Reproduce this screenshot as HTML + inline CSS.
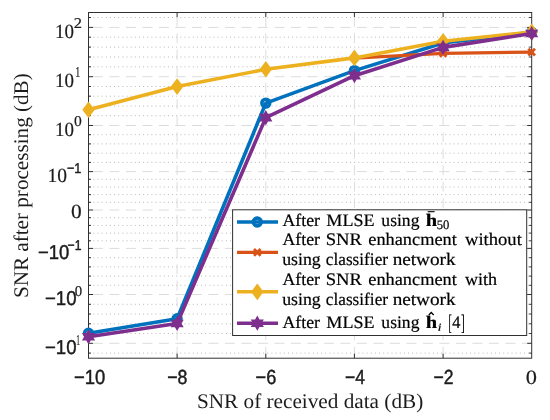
<!DOCTYPE html>
<html><head><meta charset="utf-8"><title>SNR plot</title>
<style>html,body{margin:0;padding:0;background:#fff;}svg{display:block;}</style>
</head><body>
<svg width="550" height="420" viewBox="0 0 550 420" text-rendering="geometricPrecision">
<rect width="550" height="420" fill="#fff"/>
<g stroke="#b8b8b8" stroke-width="1" stroke-dasharray="1 3.14" fill="none">
<path d="M89.25 37.2H531.7"/>
<path d="M89.25 47.1H531.7"/>
<path d="M89.25 57.0H531.7"/>
<path d="M89.25 66.8H531.7"/>
<path d="M89.25 86.5H531.7"/>
<path d="M89.25 96.2H531.7"/>
<path d="M89.25 106.0H531.7"/>
<path d="M89.25 115.7H531.7"/>
<path d="M89.25 134.7H531.7"/>
<path d="M89.25 143.9H531.7"/>
<path d="M89.25 153.2H531.7"/>
<path d="M89.25 162.4H531.7"/>
<path d="M89.25 179.3H531.7"/>
<path d="M89.25 187.0H531.7"/>
<path d="M89.25 194.6H531.7"/>
<path d="M89.25 202.3H531.7"/>
<path d="M89.25 217.7H531.7"/>
<path d="M89.25 225.4H531.7"/>
<path d="M89.25 233.1H531.7"/>
<path d="M89.25 240.8H531.7"/>
<path d="M89.25 257.7H531.7"/>
<path d="M89.25 266.9H531.7"/>
<path d="M89.25 276.1H531.7"/>
<path d="M89.25 285.3H531.7"/>
<path d="M89.25 304.3H531.7"/>
<path d="M89.25 314.0H531.7"/>
<path d="M89.25 323.8H531.7"/>
<path d="M89.25 333.5H531.7"/>
<path d="M89.25 17.5H531.7"/>
<path d="M89.25 353.1H531.7"/>
</g>
<g stroke="#dcdcdc" stroke-width="1" stroke-dasharray="10 6.5" fill="none">
<path d="M92.9 27.4H531.7"/>
<path d="M92.9 76.7H531.7"/>
<path d="M92.9 125.5H531.7"/>
<path d="M92.9 171.6H531.7"/>
<path d="M92.9 210.0H531.7"/>
<path d="M92.9 248.4H531.7"/>
<path d="M92.9 294.5H531.7"/>
<path d="M92.9 343.3H531.7"/>
<path d="M177.1 16.7V358.2"/>
<path d="M265.8 16.7V358.2"/>
<path d="M354.4 16.7V358.2"/>
<path d="M443.1 16.7V358.2"/>
</g>
<g stroke="#303030" stroke-width="1" fill="none">
<rect x="88.5" y="12.5" width="443.2" height="345.7"/>
<path d="M177.1 358.2v-4.5M177.1 12.5v4.5"/>
<path d="M265.8 358.2v-4.5M265.8 12.5v4.5"/>
<path d="M354.4 358.2v-4.5M354.4 12.5v4.5"/>
<path d="M443.1 358.2v-4.5M443.1 12.5v4.5"/>
<path d="M88.5 27.4h4.5M531.7 27.4h-4.5"/>
<path d="M88.5 76.7h4.5M531.7 76.7h-4.5"/>
<path d="M88.5 125.5h4.5M531.7 125.5h-4.5"/>
<path d="M88.5 171.6h4.5M531.7 171.6h-4.5"/>
<path d="M88.5 210.0h4.5M531.7 210.0h-4.5"/>
<path d="M88.5 248.4h4.5M531.7 248.4h-4.5"/>
<path d="M88.5 294.5h4.5M531.7 294.5h-4.5"/>
<path d="M88.5 343.3h4.5M531.7 343.3h-4.5"/>
<path d="M88.5 37.2h2.5M531.7 37.2h-2.5"/>
<path d="M88.5 47.1h2.5M531.7 47.1h-2.5"/>
<path d="M88.5 57.0h2.5M531.7 57.0h-2.5"/>
<path d="M88.5 66.8h2.5M531.7 66.8h-2.5"/>
<path d="M88.5 86.5h2.5M531.7 86.5h-2.5"/>
<path d="M88.5 96.2h2.5M531.7 96.2h-2.5"/>
<path d="M88.5 106.0h2.5M531.7 106.0h-2.5"/>
<path d="M88.5 115.7h2.5M531.7 115.7h-2.5"/>
<path d="M88.5 134.7h2.5M531.7 134.7h-2.5"/>
<path d="M88.5 143.9h2.5M531.7 143.9h-2.5"/>
<path d="M88.5 153.2h2.5M531.7 153.2h-2.5"/>
<path d="M88.5 162.4h2.5M531.7 162.4h-2.5"/>
<path d="M88.5 179.3h2.5M531.7 179.3h-2.5"/>
<path d="M88.5 187.0h2.5M531.7 187.0h-2.5"/>
<path d="M88.5 194.6h2.5M531.7 194.6h-2.5"/>
<path d="M88.5 202.3h2.5M531.7 202.3h-2.5"/>
<path d="M88.5 217.7h2.5M531.7 217.7h-2.5"/>
<path d="M88.5 225.4h2.5M531.7 225.4h-2.5"/>
<path d="M88.5 233.1h2.5M531.7 233.1h-2.5"/>
<path d="M88.5 240.8h2.5M531.7 240.8h-2.5"/>
<path d="M88.5 257.7h2.5M531.7 257.7h-2.5"/>
<path d="M88.5 266.9h2.5M531.7 266.9h-2.5"/>
<path d="M88.5 276.1h2.5M531.7 276.1h-2.5"/>
<path d="M88.5 285.3h2.5M531.7 285.3h-2.5"/>
<path d="M88.5 304.3h2.5M531.7 304.3h-2.5"/>
<path d="M88.5 314.0h2.5M531.7 314.0h-2.5"/>
<path d="M88.5 323.8h2.5M531.7 323.8h-2.5"/>
<path d="M88.5 333.5h2.5M531.7 333.5h-2.5"/>
<path d="M88.5 17.5h2.5M531.7 17.5h-2.5"/>
<path d="M88.5 353.1h2.5M531.7 353.1h-2.5"/>
</g>
<clipPath id="cp"><rect x="80.5" y="4.5" width="459.2" height="361.7"/></clipPath>
<polyline points="88.5,333.2 177.1,318.8 265.8,103.1 354.4,70.6 443.1,43.0 531.7,32.3" fill="none" stroke="#0072BD" stroke-width="3.6" stroke-linejoin="round"/>
<circle cx="88.5" cy="333.2" r="3.9" fill="none" stroke="#0072BD" stroke-width="3.6"/>
<circle cx="177.1" cy="318.8" r="3.9" fill="none" stroke="#0072BD" stroke-width="3.6"/>
<circle cx="265.8" cy="103.1" r="3.9" fill="none" stroke="#0072BD" stroke-width="3.6"/>
<circle cx="354.4" cy="70.6" r="3.9" fill="none" stroke="#0072BD" stroke-width="3.6"/>
<circle cx="443.1" cy="43.0" r="3.9" fill="none" stroke="#0072BD" stroke-width="3.6"/>
<circle cx="531.7" cy="32.3" r="3.9" fill="none" stroke="#0072BD" stroke-width="3.6"/>
<polyline points="354.4,58.2 443.1,53.4 531.7,52.1" fill="none" stroke="#D95319" stroke-width="3.2" stroke-linejoin="round"/>
<path d="M351.1 54.9L357.7 61.5M351.1 61.5L357.7 54.9" stroke="#D95319" stroke-width="2.8" fill="none"/>
<path d="M439.8 50.1L446.4 56.7M439.8 56.7L446.4 50.1" stroke="#D95319" stroke-width="2.8" fill="none"/>
<path d="M528.4 48.8L535.0 55.4M528.4 55.4L535.0 48.8" stroke="#D95319" stroke-width="2.8" fill="none"/>
<polyline points="88.5,109.8 177.1,86.6 265.8,69.3 354.4,57.9 443.1,41.3 531.7,32.0" fill="none" stroke="#EDB120" stroke-width="3.6" stroke-linejoin="round"/>
<path d="M88.5 101.4L94.7 109.8L88.5 118.1L82.3 109.8Z" fill="#EDB120"/>
<path d="M177.1 78.2L183.3 86.6L177.1 94.9L170.9 86.6Z" fill="#EDB120"/>
<path d="M265.8 60.9L272.0 69.3L265.8 77.6L259.6 69.3Z" fill="#EDB120"/>
<path d="M354.4 49.5L360.6 57.9L354.4 66.2L348.2 57.9Z" fill="#EDB120"/>
<path d="M443.1 32.9L449.3 41.3L443.1 49.6L436.9 41.3Z" fill="#EDB120"/>
<path d="M531.7 23.6L537.9 32.0L531.7 40.4L525.5 32.0Z" fill="#EDB120"/>
<polyline points="88.5,336.8 177.1,323.5 265.8,117.6 354.4,75.7 443.1,47.4 531.7,33.5" fill="none" stroke="#7E2F8E" stroke-width="3.6" stroke-linejoin="round"/>
<path d="M88.50 329.20 L90.69 333.00 L95.08 333.00 L92.89 336.80 L95.08 340.60 L90.69 340.60 L88.50 344.40 L86.31 340.60 L81.92 340.60 L84.11 336.80 L81.92 333.00 L86.31 333.00Z" fill="#7E2F8E"/>
<path d="M177.14 315.90 L179.33 319.70 L183.72 319.70 L181.53 323.50 L183.72 327.30 L179.33 327.30 L177.14 331.10 L174.95 327.30 L170.56 327.30 L172.75 323.50 L170.56 319.70 L174.95 319.70Z" fill="#7E2F8E"/>
<path d="M265.78 110.00 L267.97 113.80 L272.36 113.80 L270.17 117.60 L272.36 121.40 L267.97 121.40 L265.78 125.20 L263.59 121.40 L259.20 121.40 L261.39 117.60 L259.20 113.80 L263.59 113.80Z" fill="#7E2F8E"/>
<path d="M354.42 68.05 L356.61 71.85 L361.00 71.85 L358.81 75.65 L361.00 79.45 L356.61 79.45 L354.42 83.25 L352.23 79.45 L347.84 79.45 L350.03 75.65 L347.84 71.85 L352.23 71.85Z" fill="#7E2F8E"/>
<path d="M443.06 39.75 L445.25 43.55 L449.64 43.55 L447.45 47.35 L449.64 51.15 L445.25 51.15 L443.06 54.95 L440.87 51.15 L436.48 51.15 L438.67 47.35 L436.48 43.55 L440.87 43.55Z" fill="#7E2F8E"/>
<path d="M531.70 25.90 L533.89 29.70 L538.28 29.70 L536.09 33.50 L538.28 37.30 L533.89 37.30 L531.70 41.10 L529.51 37.30 L525.12 37.30 L527.31 33.50 L525.12 29.70 L529.51 29.70Z" fill="#7E2F8E"/>
<rect x="232.6" y="209.8" width="294.1" height="125.7" fill="#fff" stroke="#303030" stroke-width="1"/>
<path d="M237 222.0H278" stroke="#0072BD" stroke-width="3.6" fill="none"/>
<circle cx="257.3" cy="222.0" r="3.9" fill="none" stroke="#0072BD" stroke-width="3.6"/>
<path d="M237 252.4H278" stroke="#D95319" stroke-width="3.2" fill="none"/>
<path d="M254.0 249.1L260.6 255.7M254.0 255.7L260.6 249.1" stroke="#D95319" stroke-width="2.8" fill="none"/>
<path d="M237 291.8H278" stroke="#EDB120" stroke-width="3.6" fill="none"/>
<path d="M257.3 283.4L263.5 291.8L257.3 300.2L251.1 291.8Z" fill="#EDB120"/>
<path d="M237 323.2H278" stroke="#7E2F8E" stroke-width="3.6" fill="none"/>
<path d="M257.30 315.60 L259.49 319.40 L263.88 319.40 L261.69 323.20 L263.88 327.00 L259.49 327.00 L257.30 330.80 L255.11 327.00 L250.72 327.00 L252.91 323.20 L250.72 319.40 L255.11 319.40Z" fill="#7E2F8E"/>
<text x="282.53" y="226.45" font-family="Liberation Serif, serif" font-size="17.6" fill="#000" stroke="#000" stroke-width="0.2" textLength="37.43" lengthAdjust="spacingAndGlyphs">After</text>
<text x="326.38" y="226.45" font-family="Liberation Serif, serif" font-size="17.6" fill="#000" stroke="#000" stroke-width="0.2" textLength="48.22" lengthAdjust="spacingAndGlyphs">MLSE</text>
<text x="381.37" y="226.45" font-family="Liberation Serif, serif" font-size="17.6" fill="#000" stroke="#000" stroke-width="0.2" textLength="38.07" lengthAdjust="spacingAndGlyphs">using</text>
<text x="425.69" y="226.45" font-family="Liberation Serif, serif" font-size="17.6" font-weight="bold" fill="#000" stroke="#000" stroke-width="0.2" textLength="11.42" lengthAdjust="spacingAndGlyphs">h</text>
<path d="M427.7 211.7H434.6" stroke="#000" stroke-width="1.1"/>
<text x="436.67" y="229.2" font-family="Liberation Serif, serif" font-size="13" fill="#000" stroke="#000" stroke-width="0.2" textLength="12.61" lengthAdjust="spacingAndGlyphs">50</text>
<text x="282.53" y="245.0" font-family="Liberation Serif, serif" font-size="17.6" fill="#000" stroke="#000" stroke-width="0.2" textLength="37.43" lengthAdjust="spacingAndGlyphs">After</text>
<text x="325.65" y="245.0" font-family="Liberation Serif, serif" font-size="17.6" fill="#000" stroke="#000" stroke-width="0.2" textLength="36.27" lengthAdjust="spacingAndGlyphs">SNR</text>
<text x="368.28" y="245.0" font-family="Liberation Serif, serif" font-size="17.6" fill="#000" stroke="#000" stroke-width="0.2" textLength="88.52" lengthAdjust="spacingAndGlyphs">enhancment</text>
<text x="464.98" y="245.0" font-family="Liberation Serif, serif" font-size="17.6" fill="#000" stroke="#000" stroke-width="0.2" textLength="56.83" lengthAdjust="spacingAndGlyphs">without</text>
<text x="282.17" y="265.3" font-family="Liberation Serif, serif" font-size="17.6" fill="#000" stroke="#000" stroke-width="0.2" textLength="38.57" lengthAdjust="spacingAndGlyphs">using</text>
<text x="325.84" y="265.3" font-family="Liberation Serif, serif" font-size="17.6" fill="#000" stroke="#000" stroke-width="0.2" textLength="62.21" lengthAdjust="spacingAndGlyphs">classifier</text>
<text x="392.66" y="265.3" font-family="Liberation Serif, serif" font-size="17.6" fill="#000" stroke="#000" stroke-width="0.2" textLength="62.94" lengthAdjust="spacingAndGlyphs">network</text>
<text x="282.53" y="284.6" font-family="Liberation Serif, serif" font-size="17.6" fill="#000" stroke="#000" stroke-width="0.2" textLength="37.43" lengthAdjust="spacingAndGlyphs">After</text>
<text x="325.65" y="284.6" font-family="Liberation Serif, serif" font-size="17.6" fill="#000" stroke="#000" stroke-width="0.2" textLength="36.27" lengthAdjust="spacingAndGlyphs">SNR</text>
<text x="368.28" y="284.6" font-family="Liberation Serif, serif" font-size="17.6" fill="#000" stroke="#000" stroke-width="0.2" textLength="88.52" lengthAdjust="spacingAndGlyphs">enhancment</text>
<text x="464.98" y="284.6" font-family="Liberation Serif, serif" font-size="17.6" fill="#000" stroke="#000" stroke-width="0.2" textLength="32.16" lengthAdjust="spacingAndGlyphs">with</text>
<text x="282.17" y="305.1" font-family="Liberation Serif, serif" font-size="17.6" fill="#000" stroke="#000" stroke-width="0.2" textLength="38.57" lengthAdjust="spacingAndGlyphs">using</text>
<text x="325.84" y="305.1" font-family="Liberation Serif, serif" font-size="17.6" fill="#000" stroke="#000" stroke-width="0.2" textLength="62.21" lengthAdjust="spacingAndGlyphs">classifier</text>
<text x="392.66" y="305.1" font-family="Liberation Serif, serif" font-size="17.6" fill="#000" stroke="#000" stroke-width="0.2" textLength="62.94" lengthAdjust="spacingAndGlyphs">network</text>
<text x="282.53" y="328.2" font-family="Liberation Serif, serif" font-size="17.6" fill="#000" stroke="#000" stroke-width="0.2" textLength="37.43" lengthAdjust="spacingAndGlyphs">After</text>
<text x="326.38" y="328.2" font-family="Liberation Serif, serif" font-size="17.6" fill="#000" stroke="#000" stroke-width="0.2" textLength="48.22" lengthAdjust="spacingAndGlyphs">MLSE</text>
<text x="381.37" y="328.2" font-family="Liberation Serif, serif" font-size="17.6" fill="#000" stroke="#000" stroke-width="0.2" textLength="38.07" lengthAdjust="spacingAndGlyphs">using</text>
<text x="425.69" y="328.2" font-family="Liberation Serif, serif" font-size="17.6" font-weight="bold" fill="#000" stroke="#000" stroke-width="0.2" textLength="11.42" lengthAdjust="spacingAndGlyphs">h</text>
<path d="M428.8 315L431.25 312.5L433.7 315" stroke="#000" stroke-width="1.3" fill="none"/>
<text x="437.77" y="330.7" font-family="Liberation Serif, serif" font-size="11.2" font-style="italic" fill="#000" stroke="#000" stroke-width="0.2" textLength="3.62" lengthAdjust="spacingAndGlyphs">i</text>
<text x="448.57" y="329.6" font-family="Liberation Serif, serif" font-size="22.3" fill="#000" stroke="#000" stroke-width="0.2" textLength="3.29" lengthAdjust="spacingAndGlyphs">[</text>
<text x="452.18" y="328.2" font-family="Liberation Serif, serif" font-size="17.6" fill="#000" stroke="#000" stroke-width="0.2" textLength="8.17" lengthAdjust="spacingAndGlyphs">4</text>
<text x="460.89" y="329.6" font-family="Liberation Serif, serif" font-size="22.3" fill="#000" stroke="#000" stroke-width="0.2" textLength="3.74" lengthAdjust="spacingAndGlyphs">]</text>
<text x="196.98" y="408.4" font-family="Liberation Serif, serif" font-size="20.8" fill="#1c1c1c" textLength="226.25" lengthAdjust="spacingAndGlyphs">SNR of received data (dB)</text>
<text transform="translate(28 296.7) rotate(-90)" x="-1.41" y="0" font-family="Liberation Serif, serif" font-size="20.8" fill="#1c1c1c" textLength="224.84" lengthAdjust="spacingAndGlyphs">SNR after processing (dB)</text>
<text x="73.89" y="383.9" font-family="Liberation Sans, sans-serif" font-size="20.3" fill="#1c1c1c" stroke="#1c1c1c" stroke-width="0.45" textLength="31.33" lengthAdjust="spacingAndGlyphs">−10</text>
<text x="167.22" y="383.9" font-family="Liberation Sans, sans-serif" font-size="20.3" fill="#1c1c1c" stroke="#1c1c1c" stroke-width="0.45" textLength="20.25" lengthAdjust="spacingAndGlyphs">−8</text>
<text x="255.60" y="383.9" font-family="Liberation Sans, sans-serif" font-size="20.3" fill="#1c1c1c" stroke="#1c1c1c" stroke-width="0.45" textLength="20.69" lengthAdjust="spacingAndGlyphs">−6</text>
<text x="344.94" y="383.9" font-family="Liberation Sans, sans-serif" font-size="20.3" fill="#1c1c1c" stroke="#1c1c1c" stroke-width="0.45" textLength="19.98" lengthAdjust="spacingAndGlyphs">−4</text>
<text x="433.53" y="383.9" font-family="Liberation Sans, sans-serif" font-size="20.3" fill="#1c1c1c" stroke="#1c1c1c" stroke-width="0.45" textLength="20.05" lengthAdjust="spacingAndGlyphs">−2</text>
<text x="525.85" y="383.9" font-family="Liberation Serif, serif" font-size="20.2" fill="#1c1c1c" stroke="#1c1c1c" stroke-width="0.2" textLength="11.21" lengthAdjust="spacingAndGlyphs">0</text>
<text x="55.03" y="38.0" font-family="Liberation Serif, serif" font-size="20" fill="#1c1c1c" stroke="#1c1c1c" stroke-width="0.2" textLength="18.99" lengthAdjust="spacingAndGlyphs">10</text>
<text x="73.88" y="28.1" font-family="Liberation Serif, serif" font-size="15" fill="#1c1c1c" stroke="#1c1c1c" stroke-width="0.2" textLength="8.23" lengthAdjust="spacingAndGlyphs">2</text>
<text x="55.03" y="87.3" font-family="Liberation Serif, serif" font-size="20" fill="#1c1c1c" stroke="#1c1c1c" stroke-width="0.2" textLength="18.99" lengthAdjust="spacingAndGlyphs">10</text>
<text x="75.33" y="77.4" font-family="Liberation Serif, serif" font-size="15" fill="#1c1c1c" stroke="#1c1c1c" stroke-width="0.2" textLength="4.97" lengthAdjust="spacingAndGlyphs">1</text>
<text x="55.03" y="136.1" font-family="Liberation Serif, serif" font-size="20" fill="#1c1c1c" stroke="#1c1c1c" stroke-width="0.2" textLength="18.99" lengthAdjust="spacingAndGlyphs">10</text>
<text x="74.01" y="126.2" font-family="Liberation Serif, serif" font-size="15" fill="#1c1c1c" stroke="#1c1c1c" stroke-width="0.2" textLength="7.79" lengthAdjust="spacingAndGlyphs">0</text>
<text x="47.58" y="181.8" font-family="Liberation Serif, serif" font-size="20" fill="#1c1c1c" stroke="#1c1c1c" stroke-width="0.2" textLength="19.56" lengthAdjust="spacingAndGlyphs">10</text>
<text x="66.88" y="172.5" font-family="Liberation Sans, sans-serif" font-size="14.1" fill="#1c1c1c" stroke="#1c1c1c" stroke-width="0.45" textLength="14.33" lengthAdjust="spacingAndGlyphs">−1</text>
<text x="71.09" y="217.9" font-family="Liberation Serif, serif" font-size="20" fill="#1c1c1c" stroke="#1c1c1c" stroke-width="0.2" textLength="10.68" lengthAdjust="spacingAndGlyphs">0</text>
<text x="37.99" y="259.1" font-family="Liberation Sans, sans-serif" font-size="20" fill="#1c1c1c" stroke="#1c1c1c" stroke-width="0.45" textLength="31.33" lengthAdjust="spacingAndGlyphs">−10</text>
<text x="67.60" y="249.8" font-family="Liberation Sans, sans-serif" font-size="14.2" fill="#1c1c1c" stroke="#1c1c1c" stroke-width="0.45" textLength="13.90" lengthAdjust="spacingAndGlyphs">−1</text>
<text x="44.98" y="305.1" font-family="Liberation Sans, sans-serif" font-size="20" fill="#1c1c1c" stroke="#1c1c1c" stroke-width="0.45" textLength="31.54" lengthAdjust="spacingAndGlyphs">−10</text>
<text x="74.63" y="295.7" font-family="Liberation Serif, serif" font-size="15" fill="#1c1c1c" stroke="#1c1c1c" stroke-width="0.2" textLength="7.43" lengthAdjust="spacingAndGlyphs">0</text>
<text x="44.98" y="353.9" font-family="Liberation Sans, sans-serif" font-size="20" fill="#1c1c1c" stroke="#1c1c1c" stroke-width="0.45" textLength="31.54" lengthAdjust="spacingAndGlyphs">−10</text>
<text x="76.15" y="344.9" font-family="Liberation Serif, serif" font-size="15" fill="#1c1c1c" stroke="#1c1c1c" stroke-width="0.2" textLength="3.69" lengthAdjust="spacingAndGlyphs">1</text>
</svg>
</body></html>
